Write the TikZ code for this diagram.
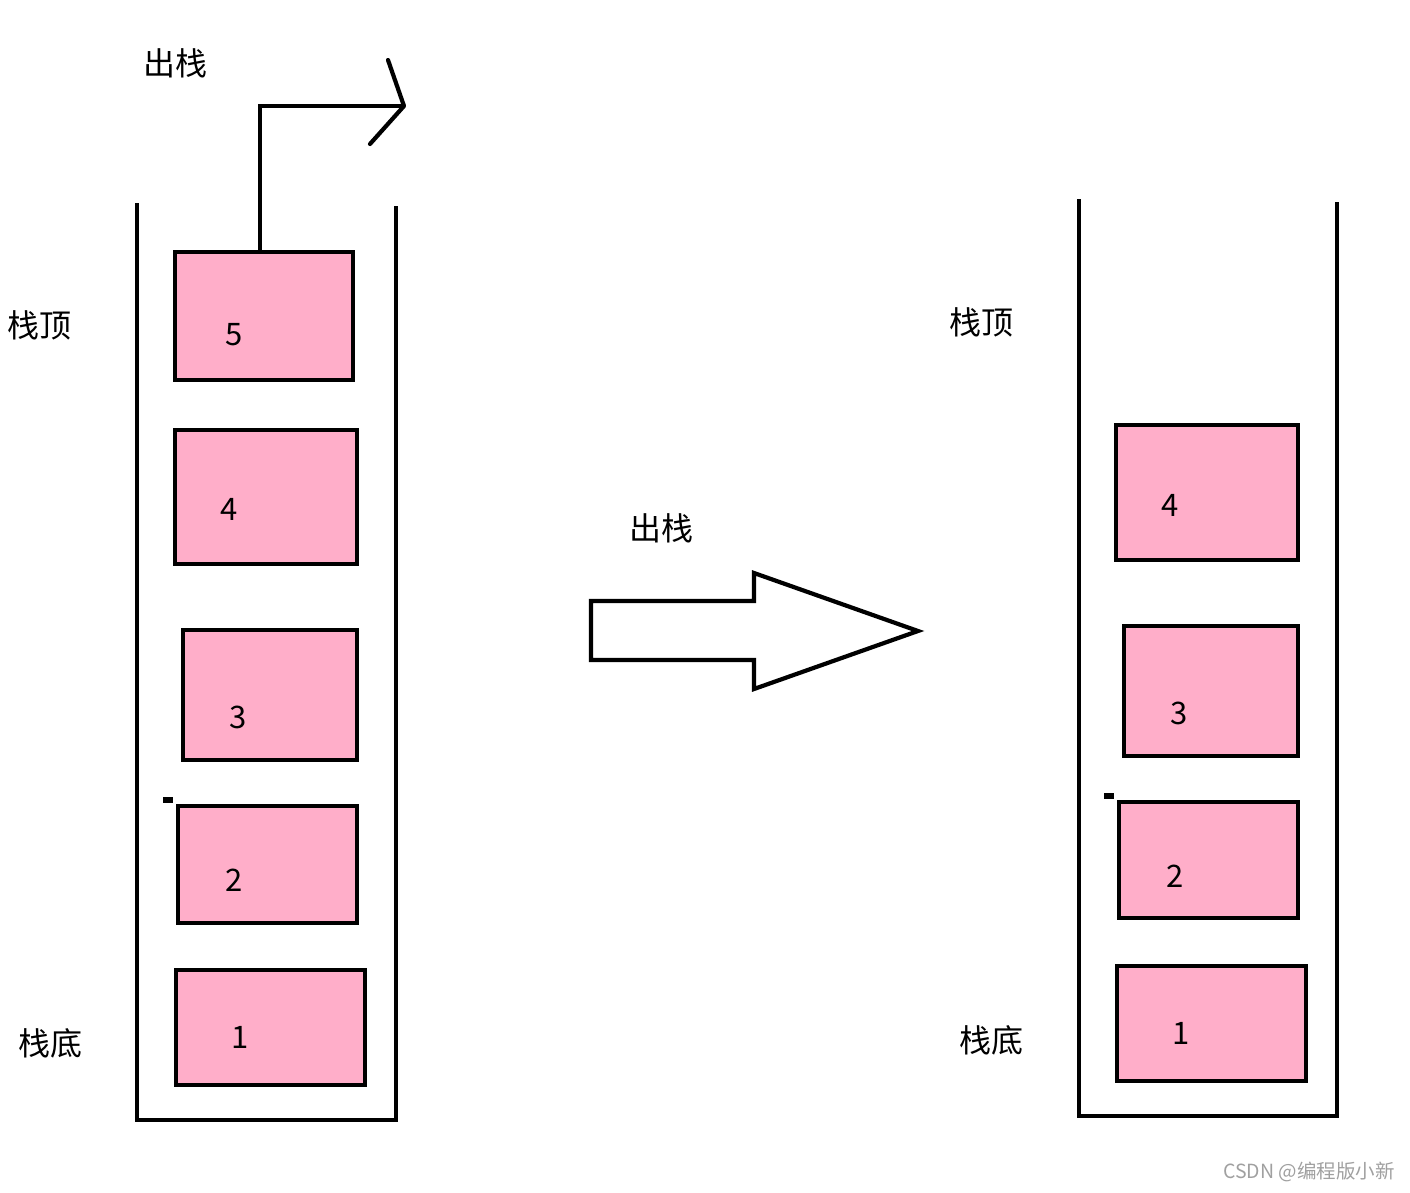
\documentclass[tikz,border=0pt]{standalone}
\usepackage{fontspec}
\setmainfont{Noto Sans CJK SC}
\usepackage{xcolor}
\usetikzlibrary{positioning,calc}
\definecolor{BoxPink}{HTML}{FFAEC9}
\definecolor{MarkGray}{HTML}{A0A0A0}

\begin{document}
\begin{tikzpicture}[x=1pt,y=-1pt,
  pen/.style={line width=4.2pt,draw=black},
  blk/.style={pen,fill=BoxPink,inner sep=0pt},
  num/.style={font=\fontsize{31}{35}\selectfont,inner sep=0pt},
  lab/.style={font=\fontsize{32}{36}\selectfont,inner sep=0pt}
]
\useasboundingbox (0,0) rectangle (1410,1192);
% left stack
\draw[pen] (137,203) -- (137,1120) -- (396,1120) -- (396,206);
\node[blk,minimum width=178,minimum height=128] (l5) at (264,316) {};
\node[blk,minimum width=182,minimum height=134] (l4) at (266,497) {};
\node[blk,minimum width=174,minimum height=130] (l3) at (270,695) {};
\node[blk,minimum width=179,minimum height=117] (l2) at (267.5,864.5) {};
\node[blk,minimum width=189,minimum height=115] (l1) at (270.5,1027.5) {};
\node[num] at (234,335) {5};
\node[num] at (229,509) {4};
\node[num] at (238,717) {3};
\node[num] at (234,880) {2};
\node[num] at (240,1037) {1};
\fill (163,796.5) rectangle (173,802.5);
\coordinate (outtip) at (404,106);
\draw[pen] ([xshift=-4pt]l5.north) |- (outtip);
\draw[pen,line cap=round,line join=round] (388,60) -- (outtip) -- (370,144);
\node[lab] (popl) at (175,63) {出栈};
\node[lab] (topl) at (40,325) {栈顶};
\node[lab] (botl) at (50,1043) {栈底};
% big arrow
\draw[pen,line join=miter] (591,601) -- (754,601) -- (754,573) -- (918,631) -- (754,689) -- (754,660) -- (591,660) -- cycle;
\node[lab] (popm) at (661,528) {出栈};
% right stack
\draw[pen] (1079,199) -- (1079,1116) -- (1337,1116) -- (1337,202);
\node[blk,minimum width=182,minimum height=135] (r4) at (1207,492.5) {};
\node[blk,minimum width=174,minimum height=130] (r3) at (1211,691) {};
\node[blk,minimum width=179,minimum height=116] (r2) at (1208.5,860) {};
\node[blk,minimum width=189,minimum height=115] (r1) at (1211.5,1023.5) {};
\node[num] at (1170,505) {4};
\node[num] at (1179,713) {3};
\node[num] at (1175,876) {2};
\node[num] at (1181,1033) {1};
\fill (1104,792.5) rectangle (1114,798.5);
\node[lab] (topr) at (981,322) {栈顶};
\node[lab] (botr) at (991,1040) {栈底};
\node[font=\fontsize{19.5}{22}\selectfont,text=MarkGray,inner sep=0pt] (mark) at (1309,1172) {CSDN @编程版小新};
\end{tikzpicture}
\end{document}
